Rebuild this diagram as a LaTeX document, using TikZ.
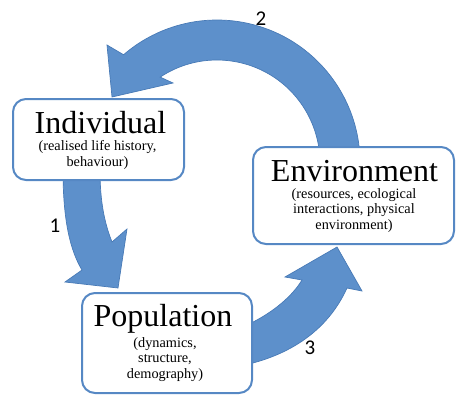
\documentclass[tikz,border=0pt]{standalone}
\usepackage{fontspec}
\setmainfont{Liberation Serif}
\newfontfamily\numfont{Carlito}

\definecolor{arrowblue}{RGB}{93,144,203}
\definecolor{edgeblue}{RGB}{72,122,182}
\definecolor{boxblue}{RGB}{86,136,196}

\tikzset{
  cyclebox/.style={draw=boxblue, line width=2pt, fill=white, rounded corners=13pt, inner sep=0pt},
  bigarrow/.style={fill=arrowblue, draw=edgeblue, line width=0.7pt, line join=miter},
  titletext/.style={font=\fontsize{32}{34}\selectfont, inner sep=0pt, anchor=base},
  subtext/.style={font=\fontsize{14.3}{15.5}\selectfont, align=center, inner sep=0pt, anchor=north},
  steplabel/.style={font=\numfont\fontsize{21}{21}\selectfont, inner sep=0pt}
}

\begin{document}
\begin{tikzpicture}[x=1pt, y=-1pt]
  \useasboundingbox (0,0) rectangle (474,404);

  % arrows (drawn first, the boxes hide their tails)
  \draw[bigarrow] (63,170) .. controls (63,220) and (70,250) .. (82,270)
      -- (65,282) -- (118,288) -- (127,229) -- (112,242)
      .. controls (104,222) and (100,200) .. (100,170) -- cycle;
  \draw[bigarrow] ([shift={(8:103)}]217,163) -- ([shift={(8:143)}]217,163)
      arc[start angle=8, end angle=-130.8, radius=143]
      -- (107,45) -- (112,97) -- (173,83) -- ([shift={(-123.5:103)}]217,163)
      arc[start angle=-123.5, end angle=8, radius=103] -- cycle;
  \draw[bigarrow] (240,328) .. controls (265,318) and (290,300) .. (302,280)
      -- (285,277) -- (337,247) -- (362,291) -- (347,288)
      .. controls (328,330) and (290,356) .. (240,366) -- cycle;

  % boxes
  \node[cyclebox, minimum width=171pt, minimum height=81pt] (ind) at (98.5,139.5) {};
  \node[cyclebox, minimum width=201pt, minimum height=97pt] (env) at (353.5,195.5) {};
  \node[cyclebox, minimum width=170pt, minimum height=100pt] (pop) at (167,343) {};

  \node[titletext] (indtitle) at (100.5,133) {Individual};
  \node[subtext] (indsub) at (97.5,140.5) {(realised life history,\\ behaviour)};
  \node[titletext] (envtitle) at (354.5,181) {Environment};
  \node[subtext] (envsub) at (354,188) {(resources, ecological\\ interactions, physical\\ environment)};
  \node[titletext] (poptitle) at (163,326) {Population};
  \node[subtext] (popsub) at (165,337) {(dynamics,\\ structure,\\ demography)};

  % step numbers
  \node[steplabel] (one) at (55,226) {1};
  \node[steplabel] (two) at (261,19) {2};
  \node[steplabel] (three) at (310,348) {3};
\end{tikzpicture}
\end{document}
